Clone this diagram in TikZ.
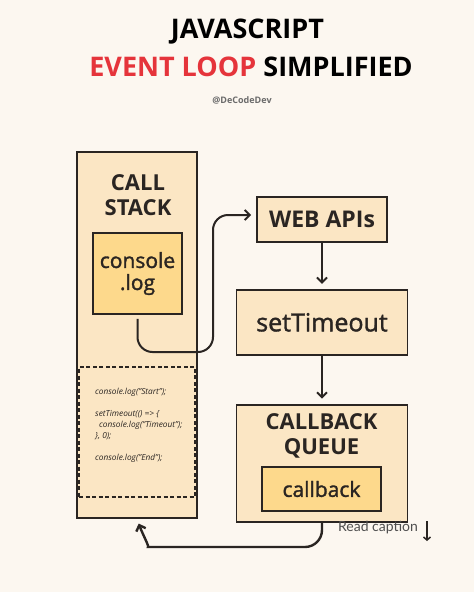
\documentclass[tikz,border=0pt]{standalone}
\usepackage{fontspec}
\setmainfont{Open Sans}
\newfontfamily\midfont[FakeBold=1.5]{Open Sans}
\newfontfamily\capfont{Lato}
\usetikzlibrary{positioning,arrows.meta}

\definecolor{paper}{HTML}{FCF7F0}
\definecolor{boxfill}{HTML}{FBE6C4}
\definecolor{innerfill}{HTML}{FDD98C}
\definecolor{ink}{HTML}{2A2522}
\definecolor{jsred}{HTML}{E5343B}
\definecolor{handle}{HTML}{6B6B6B}
\definecolor{capgray}{HTML}{4E4E4E}

\tikzset{
  panel/.style={draw=ink, line width=1.8pt, fill=boxfill, inner sep=0pt},
  innerbox/.style={draw=ink, line width=1.8pt, fill=innerfill, inner sep=0pt,
    text=ink, align=center},
  heading/.style={font=\bfseries\fontsize{22}{25}\selectfont, text=ink, align=center},
  flow/.style={draw=ink, line width=2pt, shorten >=5pt,
    -{Straight Barb[length=5pt,width=10pt]}},
}

\begin{document}
\begin{tikzpicture}[x=1pt, y=-1pt]
  \fill[paper] (0,0) rectangle (474,592);
  \useasboundingbox (0,0) rectangle (474,592);

  % title
  \node[font=\bfseries\fontsize{27}{28}\selectfont, text=black] (title) at (247.5,32) {JAVASCRIPT};
  \node[font=\bfseries\fontsize{27}{28}\selectfont, text=black] (subtitle) at (251,67)
    {\textcolor{jsred}{EVENT LOOP} SIMPLIFIED};
  \node[font=\bfseries\fontsize{9}{10}\selectfont, text=handle] (handle) at (242,100) {@DeCodeDev};

  % call stack
  \node[panel, minimum width=120pt, minimum height=366pt] (stack) at (137,335) {};
  \node[heading] (stacklabel) at (138,195) {CALL\\STACK};
  \node[innerbox, minimum width=89pt, minimum height=81pt,
    font=\midfont\fontsize{21}{22}\selectfont] (log) at (137.5,273.5) {console\\.log};
  \node[draw=ink, line width=1.8pt, dash pattern=on 4pt off 2.5pt,
    minimum width=116pt, minimum height=130pt] (code) at (137,432) {};
  \node[anchor=north west, inner sep=0pt, align=left, text=ink,
    font=\itshape\fontsize{8.3}{11}\selectfont] (codetext) at (95,388)
    {console.log("Start");\\[11pt]
     setTimeout(() => \{\\
     \hspace*{4pt}console.log("Timeout");\\
     \}, 0);\\[11pt]
     console.log("End");};

  % web apis column
  \node[panel, minimum width=130pt, minimum height=45pt,
    font=\bfseries\fontsize{23}{24}\selectfont, text=ink] (webapi) at (322,219.5) {WEB APIs};
  \node[panel, below=46pt of webapi, minimum width=171pt, minimum height=65pt,
    font=\midfont\fontsize{25}{26}\selectfont, text=ink] (timer) {setTimeout};
  \node[panel, below=48pt of timer, minimum width=171pt, minimum height=117pt] (queue) {};
  \node[heading] (queuelabel) at (321.5,435.5) {CALLBACK\\QUEUE};
  \node[innerbox, minimum width=119pt, minimum height=44pt,
    font=\midfont\fontsize{21}{22}\selectfont] (cb) at (321.5,489) {callback};

  % connectors
  \draw[flow, rounded corners=15pt] ([yshift=-4pt]log.south) |- (213,352)
    |- ([yshift=4.5pt]webapi.west);
  \draw[flow] (webapi) -- (timer);
  \draw[flow] (timer) -- (queue);
  \coordinate (back) at (165,547);
  \draw[flow, line width=2.4pt, rounded corners=17pt] (queue.south) |- (back)
    to[out=180, in=-70] (stack.south);

  % caption
  \node[font=\capfont\fontsize{14}{15}\selectfont, text=capgray] (readcap) at (378,528) {Read caption};
  \coordinate (capa) at (427,521);
  \coordinate (capb) at (427,541);
  \draw[draw=ink, line width=1.5pt, -{Straight Barb[length=3pt,width=7pt]}] (capa) -- (capb);
\end{tikzpicture}
\end{document}
